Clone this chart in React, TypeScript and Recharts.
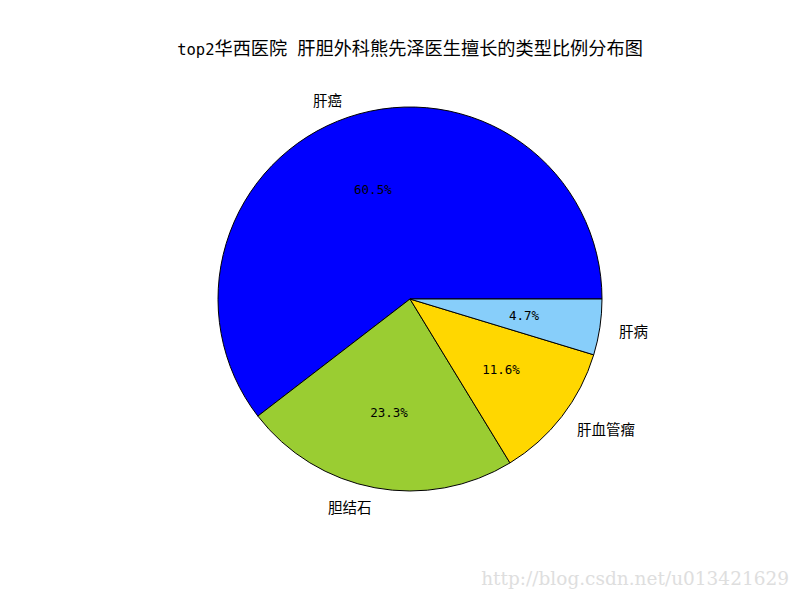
import React from "react";
import { PieChart, Pie, Cell } from "recharts";

const categories = ["肝癌", "胆结石", "肝血管瘤", "肝病"];
const percents = [60.5, 23.3, 11.6, 4.7];
const colors = ["#0000FF", "#9ACD32", "#FFD700", "#87CEFA"];
const titleLatin = "top2";
const titleCjk = "华西医院 肝胆外科熊先泽医生擅长的类型比例分布图";
const watermark = "http://blog.csdn.net/u013421629";

const data = categories.map((name, i) => ({ name, value: percents[i] }));

const RAD = Math.PI / 180;
const CJK = "'Noto Sans CJK SC', 'DejaVu Sans', sans-serif";
const MONO = "'DejaVu Sans Mono', 'Liberation Mono', monospace";

const renderLabel = (props: any) => {
  const { cx, cy, midAngle, outerRadius, name, value } = props;
  const cos = Math.cos(-midAngle * RAD);
  const sin = Math.sin(-midAngle * RAD);
  const rOut = outerRadius * 1.1;
  const rIn = outerRadius * 0.6;
  const nx = cx + rOut * cos;
  const ny = cy + rOut * sin;
  const px = cx + rIn * cos;
  const py = cy + rIn * sin;
  return (
    <g>
      <text
        x={nx}
        y={ny}
        textAnchor={cos >= 0 ? "start" : "end"}
        dominantBaseline="central"
        fontSize={14.5}
        fontFamily={CJK}
        fill="#000"
      >
        {name}
      </text>
      <text
        x={px}
        y={py}
        textAnchor="middle"
        dominantBaseline="central"
        fontSize={12.5}
        fontFamily={MONO}
        fill="#000"
      >
        {value.toFixed(1) + "%"}
      </text>
    </g>
  );
};

export default function App() {
  return (
    <div style={{ position: "absolute", left: 0, top: 0, width: 800, height: 600, background: "#fff" }}>
      <div
        style={{
          position: "absolute",
          left: 0,
          width: 820,
          top: 36,
          textAlign: "center",
          fontFamily: CJK,
          fontSize: 18.2,
          lineHeight: "22px",
          color: "#000",
          whiteSpace: "pre",
        }}
      >
        <span style={{ fontFamily: MONO, fontSize: 15.5 }}>{titleLatin}</span>
        {titleCjk.split(" ")[0]}
        <span style={{ display: "inline-block", width: 10 }} />
        {titleCjk.split(" ")[1]}
      </div>
      <div style={{ position: "absolute", left: 0, top: 0 }}>
        <PieChart width={800} height={600} margin={{ top: 0, right: 0, bottom: 0, left: 0 }}>
          <Pie
            data={data}
            dataKey="value"
            nameKey="name"
            cx={410}
            cy={299}
            outerRadius={192}
            startAngle={0}
            endAngle={360}
            stroke="#000"
            strokeWidth={1}
            label={renderLabel}
            labelLine={false}
            isAnimationActive={false}
          >
            {data.map((d, i) => (
              <Cell key={d.name} fill={colors[i]} />
            ))}
          </Pie>
        </PieChart>
      </div>
      <div
        style={{
          position: "absolute",
          right: 11,
          top: 568,
          fontFamily: "'DejaVu Serif', 'Liberation Serif', serif",
          fontSize: 18.5,
          lineHeight: "22px",
          color: "#dedede",
        }}
      >
        {watermark}
      </div>
    </div>
  );
}
